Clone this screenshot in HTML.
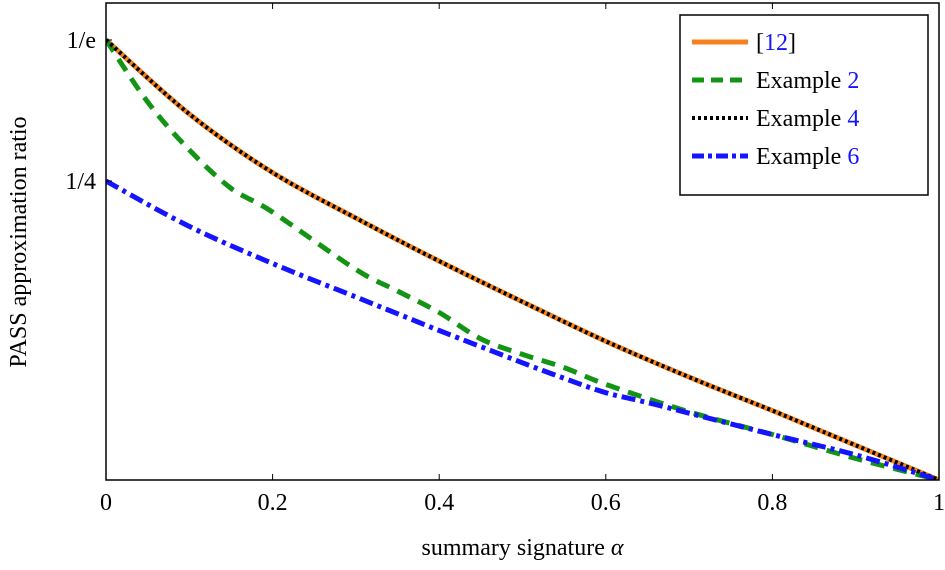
<!DOCTYPE html>
<html><head><meta charset="utf-8"><style>
body{margin:0;background:#fff;}
svg text{font-family:"Liberation Serif",serif;}
</style></head><body>
<svg width="945" height="565" viewBox="0 0 945 565" xmlns="http://www.w3.org/2000/svg">
<g id="plot"></g>
</svg>
<script>
const xTicks=[0,0.2,0.4,0.6,0.8,1];
const xTickLabels=["0","0.2","0.4","0.6","0.8","1"];
const yTicks=[0.3679,0.25];
const yTickLabels=["1/e","1/4"];
const refX=[0,0.1,0.2,0.3,0.4,0.5,0.6,0.7,0.8,0.9,1];
const refY=[0.368,0.306,0.257,0.219,0.183,0.149,0.116,0.086,0.058,0.029,0];
const ex4Y=[0.368,0.306,0.257,0.219,0.183,0.149,0.116,0.086,0.058,0.029,0];
const ex2X=[0,0.05,0.1,0.15,0.2,0.3,0.35,0.4,0.45,0.5,0.55,0.6,0.7,0.8,0.9,1];
const ex2Y=[0.368,0.316,0.276,0.244,0.224,0.176,0.158,0.14,0.118,0.105,0.094,0.08,0.057,0.038,0.018,0];
const ex6X=[0,0.1,0.2,0.3,0.35,0.4,0.5,0.55,0.6,0.66,0.8,0.9,1];
const ex6Y=[0.25,0.212,0.181,0.153,0.139,0.125,0.098,0.085,0.073,0.063,0.038,0.021,0];

const X0=106,X1=939,YT=3,YB=480,yMax=0.3988;
const sx=v=>X0+(X1-X0)*v;
const sy=v=>YB-(YB-YT)*v/yMax;
const NS="http://www.w3.org/2000/svg";
const g=document.getElementById('plot');
function el(tag,attrs,parent){const e=document.createElementNS(NS,tag);for(const k in attrs)e.setAttribute(k,attrs[k]);(parent||g).appendChild(e);return e;}

const clip=el('clipPath',{id:'c'});el('rect',{x:X0,y:YT,width:X1-X0,height:YB-YT},clip);

function smoothPath(xs,ys){
  const P=xs.map((x,i)=>[sx(x),sy(ys[i])]);
  let d='M'+P[0][0].toFixed(1)+','+P[0][1].toFixed(1);
  for(let i=0;i<P.length-1;i++){
    const p0=P[Math.max(0,i-1)],p1=P[i],p2=P[i+1],p3=P[Math.min(P.length-1,i+2)];
    const c1=[p1[0]+(p2[0]-p0[0])/6,p1[1]+(p2[1]-p0[1])/6];
    const c2=[p2[0]-(p3[0]-p1[0])/6,p2[1]-(p3[1]-p1[1])/6];
    d+=' C'+c1[0].toFixed(1)+','+c1[1].toFixed(1)+' '+c2[0].toFixed(1)+','+c2[1].toFixed(1)+' '+p2[0].toFixed(1)+','+p2[1].toFixed(1);
  }
  return d;
}
function series(xs,ys,color,w,dash,name){
  const p=el('path',{d:smoothPath(xs,ys),fill:'none',stroke:color,'stroke-width':w,'stroke-dasharray':dash,'clip-path':'url(#c)'});
  
  
}
series(refX,refY,'#f5821f',5,'none','series-ref12');
series(ex2X,ex2Y,'#149414',5,'14 9','series-example-2');
series(refX,ex4Y,'#000',4,'3 3','series-example-4');
series(ex6X,ex6Y,'#1414ff',5,'14 5 4 5','series-example-6');

const frame=el('rect',{x:X0,y:YT,width:X1-X0,height:YB-YT,fill:'none',stroke:'#000','stroke-width':1.5});



xTicks.forEach((t,i)=>{
  el('line',{x1:sx(t),x2:sx(t),y1:YB,y2:YB-6,stroke:'#000','stroke-width':1});
  el('line',{x1:sx(t),x2:sx(t),y1:YT,y2:YT+6,stroke:'#000','stroke-width':1});
  const tx=el('text',{x:sx(t),y:YB+30,'text-anchor':'middle','font-size':24});
  tx.textContent=xTickLabels[i];
  
  
});
yTicks.forEach((t,i)=>{
  el('line',{x1:X0,x2:X0+6,y1:sy(t),y2:sy(t),stroke:'#000','stroke-width':1});
  const tx=el('text',{x:X0-10,y:sy(t)+8,'text-anchor':'end','font-size':24});
  tx.textContent=yTickLabels[i];
  
  
});
const xt=el('text',{x:(X0+X1)/2,y:555,'text-anchor':'middle','font-size':24});
xt.innerHTML='summary signature <tspan font-style="italic">α</tspan>';


const yt=el('text',{x:0,y:0,'text-anchor':'middle','font-size':24,transform:'translate(26,242) rotate(-90)'});
yt.textContent='PASS approximation ratio';



const lg=el('g',{});


el('rect',{x:680,y:15,width:248,height:180,fill:'#fff',stroke:'#000','stroke-width':1.5},lg);
const items=[['#f5821f','none',5,'[',"12",']'],['#149414','12 7',5,'Example ','2',''],['#000','3 3',4,'Example ','4',''],['#1414ff','12 4 4 4',5,'Example ','6','']];
items.forEach((it,i)=>{
  const y=42+i*38;
  const e=el('g',{},lg);
  
  
  el('line',{x1:692,x2:748,y1:y,y2:y,stroke:it[0],'stroke-width':it[2],'stroke-dasharray':it[1]},e);
  const t=el('text',{x:756,y:y+8,'font-size':24},e);
  t.innerHTML=it[3]+'<tspan fill="#1414ff">'+it[4]+'</tspan>'+it[5];
});
</script>
</body></html>
